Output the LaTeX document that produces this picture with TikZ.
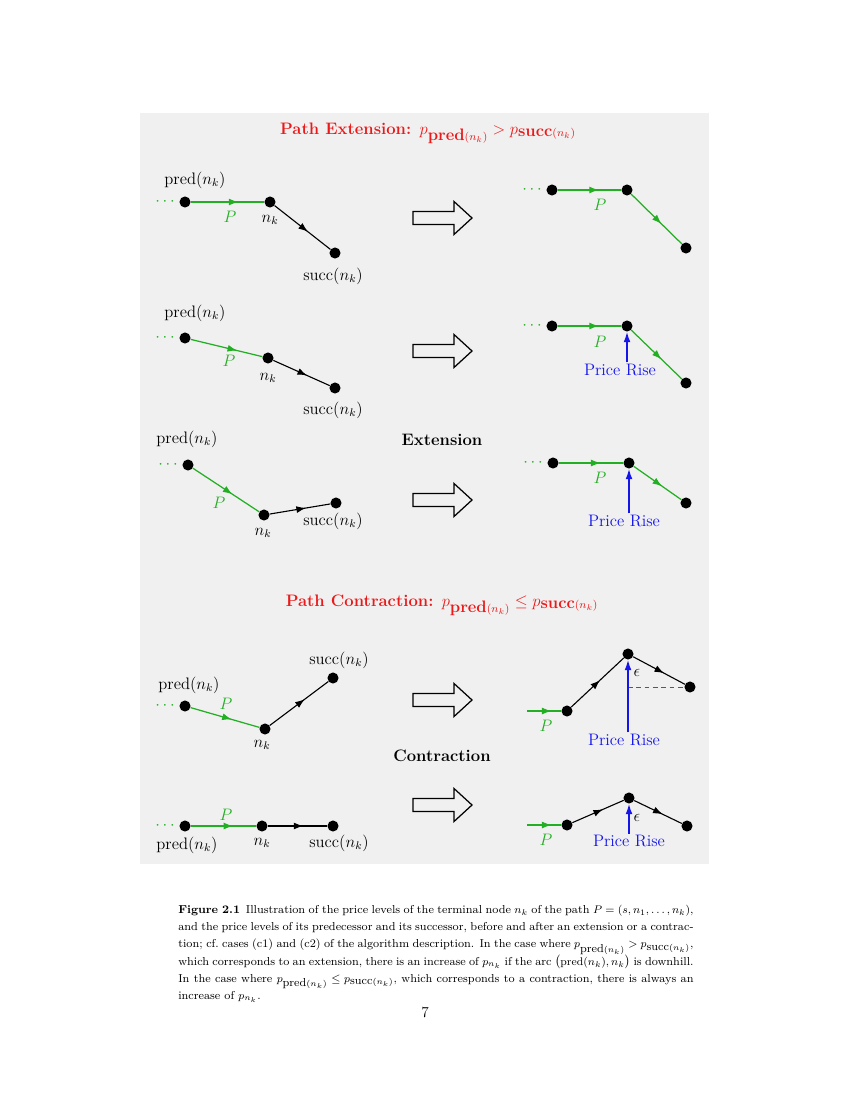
\documentclass[tikz,border=0pt]{standalone}
\usepackage{amsmath}
\usepackage{amssymb}
\usepackage{tikz}
\usetikzlibrary{arrows.meta,decorations.markings,positioning}
\usepackage{xcolor}
\definecolor{pathgreen}{RGB}{35,175,35}
\definecolor{risecol}{RGB}{20,20,235}
\definecolor{titlered}{RGB}{235,25,25}
\definecolor{panelgray}{RGB}{240,240,240}

\begin{document}
\begin{tikzpicture}[
    x=0.01in, y=-0.01in,
    dot/.style={circle, fill=black, inner sep=0pt, minimum size=8pt},
    midarrow/.style={postaction={decorate}, decoration={markings, mark=at position #1 with {\arrow{Latex[length=7pt,width=5pt]}}}},
    pathedge/.style={pathgreen, line width=0.9pt, midarrow=#1},
    pathedge/.default=0.6,
    arcedge/.style={black, line width=0.8pt, midarrow=#1},
    arcedge/.default=0.6,
    rise/.style={-{Latex[length=7.5pt,width=5pt]}, risecol, line width=1.1pt},
    lbl/.style={font=\large, inner sep=1pt},
    plbl/.style={lbl, text=pathgreen},
    risel/.style={lbl, text=risecol},
    more/.style={lbl, text=pathgreen, inner sep=0pt},
    heading/.style={font=\large\bfseries, text=titlered},
    fatarrow/.pic={\draw[line width=0.9pt] (0,-6.5) -- (41,-6.5) -- (41,-16.5) -- (59,0) -- (41,16.5) -- (41,6.5) -- (0,6.5) -- cycle;}
]
\fill[white] (0,0) rectangle (850,1100);
\fill[panelgray] (140,113) rectangle (709,864);
\useasboundingbox (0,0) rectangle (850,1100);

\node[heading] (t1) at (428,133) {Path Extension: $p_{\mbox{\bfseries pred}(n_k)} > p_{\mbox{\bfseries succ}(n_k)}$};

% row 1
\node[dot] (a1) at (185,202) {};
\node[dot] (b1) at (270,202) {};
\node[dot] (c1) at (335,253) {};
\node[more, left=1pt of a1] (m1) {$\cdots$};
\draw[pathedge=0.65] (a1) -- (b1);
\draw[arcedge] (b1) -- (c1);
\node[lbl] (a1l) at (195,180) {$\mathrm{pred}(n_k)$};
\node[plbl] (p1) at (230,217) {$P$};
\node[lbl] (b1l) at (270,220) {$n_k$};
\node[lbl] (c1l) at (333,276) {$\mathrm{succ}(n_k)$};
\pic at (413,218) {fatarrow};
\node[dot] (x1) at (552,190) {};
\node[dot] (y1) at (627,190) {};
\node[dot] (z1) at (686,248) {};
\node[more, left=1pt of x1] (mx1) {$\cdots$};
\draw[pathedge=0.65] (x1) -- (y1);
\draw[pathedge] (y1) -- (z1);
\node[plbl] (px1) at (600,205) {$P$};

% row 2
\node[dot] (a2) at (185,338) {};
\node[dot] (b2) at (268,358) {};
\node[dot] (c2) at (335,388) {};
\node[more, left=1pt of a2] (m2) {$\cdots$};
\draw[pathedge=0.65] (a2) -- (b2);
\draw[arcedge] (b2) -- (c2);
\node[lbl] (a2l) at (195,313) {$\mathrm{pred}(n_k)$};
\node[plbl] (p2) at (229,361) {$P$};
\node[lbl] (b2l) at (268,378) {$n_k$};
\node[lbl] (c2l) at (333,410) {$\mathrm{succ}(n_k)$};
\pic at (413,351) {fatarrow};
\node[dot] (x2) at (552,326) {};
\node[dot] (y2) at (627,326) {};
\node[dot] (z2) at (686,383) {};
\node[more, left=1pt of x2] (mx2) {$\cdots$};
\draw[pathedge=0.65] (x2) -- (y2);
\draw[pathedge] (y2) -- (z2);
\node[plbl] (px2) at (600,342) {$P$};
\node[risel] (r2) at (620,370) {Price Rise};
\draw[rise] (r2.north -| y2) -- (y2);

% row 3
\node[dot] (a3) at (188,465) {};
\node[dot] (b3) at (264,515) {};
\node[dot] (c3) at (336,503) {};
\node[more, left=1pt of a3] (m3) {$\cdots$};
\draw[pathedge] (a3) -- (b3);
\draw[arcedge] (b3) -- (c3);
\node[lbl] (a3l) at (187,439) {$\mathrm{pred}(n_k)$};
\node[plbl] (p3) at (219,503) {$P$};
\node[lbl] (b3l) at (263,533) {$n_k$};
\node[lbl] (c3l) at (333,521) {$\mathrm{succ}(n_k)$};
\node[font=\large\bfseries] (ext) at (442,440) {Extension};
\pic at (413,500) {fatarrow};
\node[dot] (x3) at (553,463) {};
\node[dot] (y3) at (629,463) {};
\node[dot] (z3) at (686,503) {};
\node[more, left=1pt of x3] (mx3) {$\cdots$};
\draw[pathedge=0.65] (x3) -- (y3);
\draw[pathedge] (y3) -- (z3);
\node[plbl] (px3) at (600,478) {$P$};
\node[risel] (r3) at (624,521) {Price Rise};
\draw[rise] (r3.north -| y3) -- (y3);

\node[heading] (t2) at (442,605) {Path Contraction: $p_{\mbox{\bfseries pred}(n_k)} \le p_{\mbox{\bfseries succ}(n_k)}$};

% row 4
\node[dot] (a4) at (185,706) {};
\node[dot] (b4) at (265,729) {};
\node[dot] (c4) at (333,678) {};
\node[more, left=1pt of a4] (m4) {$\cdots$};
\draw[pathedge] (a4) -- (b4);
\draw[arcedge] (b4) -- (c4);
\node[lbl] (a4l) at (189,685) {$\mathrm{pred}(n_k)$};
\node[plbl] (p4) at (226,704) {$P$};
\node[lbl] (b4l) at (262,745) {$n_k$};
\node[lbl] (c4l) at (339,660) {$\mathrm{succ}(n_k)$};
\node[font=\large\bfseries] (con) at (442,756) {Contraction};
\pic at (413,700) {fatarrow};
\coordinate (w4) at (527,711);
\node[dot] (x4) at (567,711) {};
\node[dot] (y4) at (628,654) {};
\node[dot] (z4) at (690,687) {};
\draw[pathedge=0.72] (w4) -- (x4);
\draw[arcedge=0.55] (x4) -- (y4);
\draw[arcedge] (y4) -- (z4);
\draw[gray!70!black, line width=0.6pt, dash pattern=on 3.5pt off 2.5pt] (y4 |- z4) -- (z4);
\node[plbl] (px4) at (546,726) {$P$};
\node[lbl] (e4) at (637,673) {$\epsilon$};
\node[risel] (r4) at (624,740) {Price Rise};
\draw[rise] (r4.north -| y4) -- (y4);

% row 5
\node[dot] (a5) at (185,826) {};
\node[dot] (b5) at (262,826) {};
\node[dot] (c5) at (333,826) {};
\node[more, left=1pt of a5] (m5) {$\cdots$};
\draw[pathedge=0.65] (a5) -- (b5);
\draw[arcedge] (b5) -- (c5);
\node[plbl] (p5) at (226,815) {$P$};
\node[lbl] (a5l) at (187,845) {$\mathrm{pred}(n_k)$};
\node[lbl] (b5l) at (262,843) {$n_k$};
\node[lbl] (c5l) at (339,843) {$\mathrm{succ}(n_k)$};
\pic at (413,805) {fatarrow};
\coordinate (w5) at (527,825);
\node[dot] (x5) at (567,825) {};
\node[dot] (y5) at (629,798) {};
\node[dot] (z5) at (687,826) {};
\draw[pathedge=0.72] (w5) -- (x5);
\draw[arcedge] (x5) -- (y5);
\draw[arcedge] (y5) -- (z5);
\node[plbl] (px5) at (546,840) {$P$};
\node[lbl] (e5) at (637,818) {$\epsilon$};
\node[risel] (r5) at (629,841) {Price Rise};
\draw[rise] (r5.north -| y5) -- (y5);

% caption and page number
\node[anchor=north west, text width=5.15in, align=justify, inner sep=0pt, font=\fontsize{8.3}{12.4}\selectfont] (cap) at (178,905)
  {\textbf{Figure 2.1}\enspace Illustration of the price levels of the terminal node $n_k$ of the path $P=(s,n_1,\dots,n_k)$,\linebreak
   and the price levels of its predecessor and its successor, before and after an extension or a contrac-\linebreak
   tion; cf.\ cases (c1) and (c2) of the algorithm description. In the case where $p_{\mbox{pred}(n_k)} > p_{\mbox{succ}(n_k)}$,\linebreak
   which corresponds to an extension, there is an increase of $p_{n_k}$ if the arc $\bigl(\mathrm{pred}(n_k),n_k\bigr)$ is downhill.\linebreak
   In the case where $p_{\mbox{pred}(n_k)} \le p_{\mbox{succ}(n_k)}$, which corresponds to a contraction, there is always an\linebreak
   increase of $p_{n_k}$.};
\node[font=\fontsize{11}{13}\selectfont] (pg) at (425,1012) {7};
\end{tikzpicture}
\end{document}
